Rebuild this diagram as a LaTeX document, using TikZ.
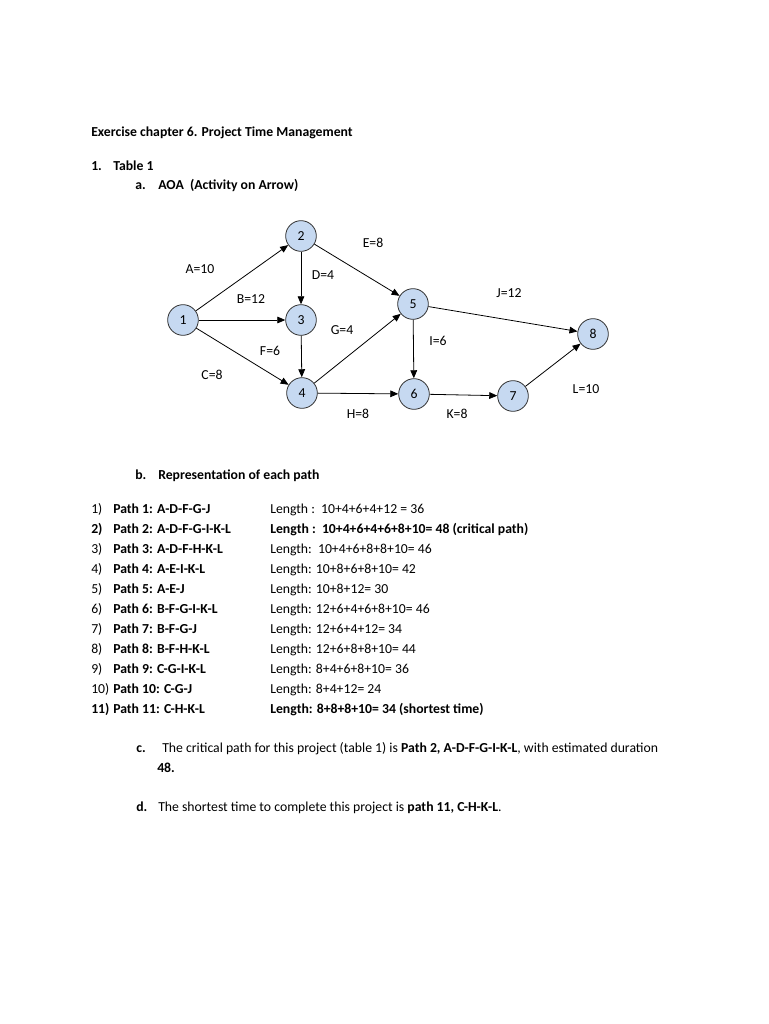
\documentclass[tikz,border=0pt]{standalone}
\usepackage{fontspec}
\setmainfont{Carlito}
\usetikzlibrary{arrows.meta}
\begin{document}
\begin{tikzpicture}[x=0.75pt,y=-0.75pt,
  every node/.style={font=\fontsize{10.3}{12}\selectfont},
  ev/.style={circle,draw=black!80,fill={rgb,255:red,198;green,217;blue,241},minimum size=23pt,inner sep=0pt,line width=0.6pt},
  act/.style={-{Triangle[length=6pt,width=5pt]},line width=0.6pt},
  lbl/.style={inner sep=0pt},
  txt/.style={anchor=west,inner sep=0pt,text height=7.5pt,text depth=2.5pt}]
\useasboundingbox (0,0) rectangle (768,1024);
\fill[white] (0,0) rectangle (768,1024);
% headings
\node[txt] (t0) at (91,133) {\bfseries Exercise chapter 6. Project Time Management};
\node[txt] (t1n) at (91,167) {\bfseries 1.};
\node[txt] (t1) at (113,167) {\bfseries Table 1};
\node[txt] (tan) at (135,186) {\bfseries a.};
\node[txt] (ta) at (158,186) {\bfseries AOA\ \ (Activity on Arrow)};
% network
\node[ev] (n1) at (183,320) {1};
\node[ev] (n2) at (301,236) {2};
\node[ev] (n3) at (301,320) {3};
\node[ev] (n4) at (302,393) {4};
\node[ev] (n5) at (413,304) {5};
\node[ev] (n6) at (414,394) {6};
\node[ev] (n7) at (513,396) {7};
\node[ev] (n8) at (593,334) {8};
\draw[act] (n1) -- (n2);
\draw[act] (n1) -- (n3);
\draw[act] (n1) -- (n4);
\draw[act] (n2) -- (n3);
\draw[act] (n2) -- (n5);
\draw[act] (n3) -- (n4);
\draw[act] (n4) -- (n5);
\draw[act] (n4) -- (n6);
\draw[act] (n5) -- (n6);
\draw[act] (n5) -- (n8);
\draw[act] (n6) -- (n7);
\draw[act] (n7) -- (n8);
\node[lbl] (la) at (200,269) {A=10};
\node[lbl] (lb) at (251,299) {B=12};
\node[lbl] (lc) at (212,375) {C=8};
\node[lbl] (ld) at (323,275) {D=4};
\node[lbl] (le) at (373,243) {E=8};
\node[lbl] (lf) at (270,351) {F=6};
\node[lbl] (lg) at (342,330) {G=4};
\node[lbl] (lh) at (358,414) {H=8};
\node[lbl] (li) at (438,341) {I=6};
\node[lbl] (lj) at (509,293) {J=12};
\node[lbl] (lk) at (457,414) {K=8};
\node[lbl] (ll) at (586,389) {L=10};
% b
\node[txt] (tbn) at (135,476) {\bfseries b.};
\node[txt] (tb) at (158,476) {\bfseries Representation of each path};
\foreach \i/\y/\p/\l/\bb in {
 1/510/{Path 1: A-D-F-G-J}/{Length :\ \ 10+4+6+4+12 = 36}/0,
 2/530/{Path 2: A-D-F-G-I-K-L}/{Length :\ \ 10+4+6+4+6+8+10= 48 (critical path)}/1,
 3/550/{Path 3: A-D-F-H-K-L}/{Length:\ \ 10+4+6+8+8+10= 46}/0,
 4/570/{Path 4: A-E-I-K-L}/{Length: 10+8+6+8+10= 42}/0,
 5/590/{Path 5: A-E-J}/{Length: 10+8+12= 30}/0,
 6/610/{Path 6: B-F-G-I-K-L}/{Length: 12+6+4+6+8+10= 46}/0,
 7/630/{Path 7: B-F-G-J}/{Length: 12+6+4+12= 34}/0,
 8/650/{Path 8: B-F-H-K-L}/{Length: 12+6+8+8+10= 44}/0,
 9/670/{Path 9: C-G-I-K-L}/{Length: 8+4+6+8+10= 36}/0,
 10/690/{Path 10: C-G-J}/{Length: 8+4+12= 24}/0,
 11/710/{Path 11: C-H-K-L}/{Length: 8+8+8+10= 34 (shortest time)}/1}{
  \ifnum\bb=1
   \node[txt] (r\i n) at (91,\y) {\bfseries \i)};
   \node[txt] (r\i l) at (270,\y) {\bfseries \l};
  \else
   \node[txt] (r\i n) at (91,\y) {\i)};
   \node[txt] (r\i l) at (270,\y) {\l};
  \fi
  \node[txt] (r\i p) at (113,\y) {\bfseries \p};
}
% c
\node[txt] (tcn) at (136,749) {\bfseries c.};
\node[txt] (tc) at (162,749) {The critical path for this project (table 1) is \textbf{Path 2, A-D-F-G-I-K-L}, with estimated duration};
\node[txt] (tc2) at (157,769) {\bfseries 48.};
\node[txt] (tdn) at (136,808) {\bfseries d.};
\node[txt] (td) at (158,808) {The shortest time to complete this project is \textbf{path 11, C-H-K-L}.};
\end{tikzpicture}
\end{document}
